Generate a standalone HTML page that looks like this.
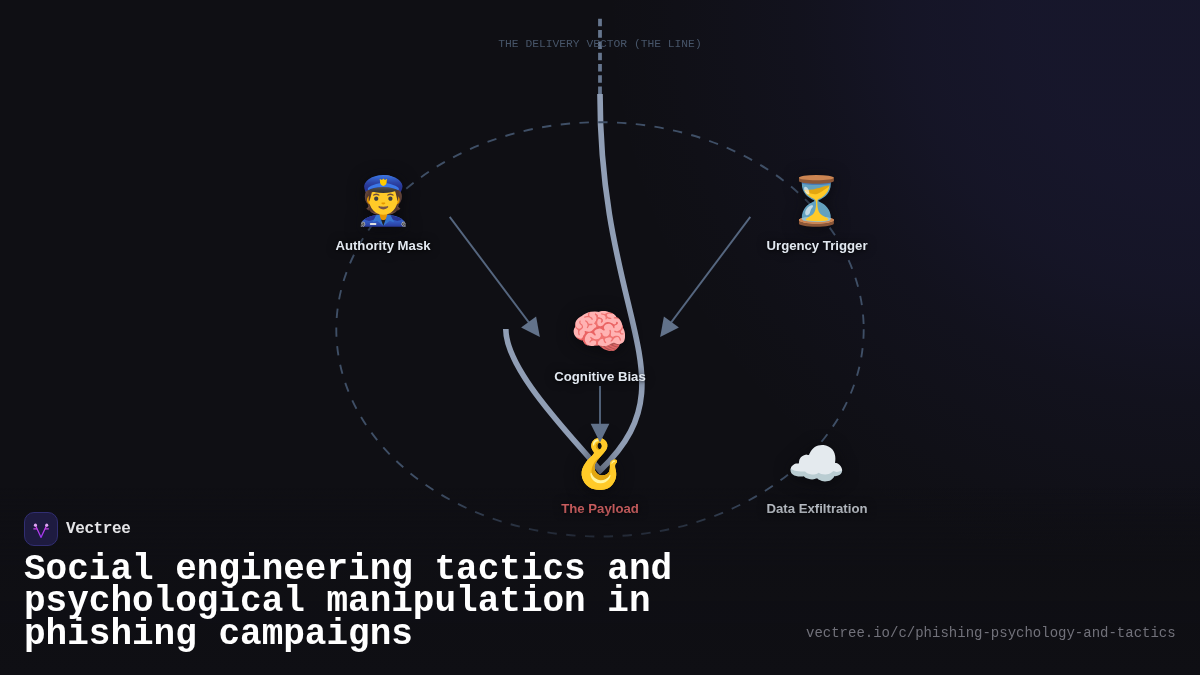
<!DOCTYPE html>
<html lang="en">
<head>
<meta charset="utf-8">
<title>Social engineering tactics and psychological manipulation in phishing campaigns</title>
<style>
*{margin:0;padding:0;box-sizing:border-box}
html,body{width:1200px;height:675px;overflow:hidden;background:#0f0f14}
body{position:relative;font-family:"Liberation Sans",Arial,sans-serif}
#bg{position:absolute;left:0;top:0;width:1200px;height:675px;
 background:
  radial-gradient(circle 600px at 100% 0%,rgba(88,84,236,0.1065) 0px,rgba(88,84,236,0.1065) 120px,rgba(88,84,236,0.1044) 165px,rgba(88,84,236,0.1012) 200px,rgba(88,84,236,0.0959) 240px,rgba(88,84,236,0.0905) 270px,rgba(88,84,236,0.0831) 300px,rgba(88,84,236,0.0628) 350px,rgba(88,84,236,0.0437) 400px,rgba(88,84,236,0.0298) 450px,rgba(88,84,236,0.0181) 500px,rgba(88,84,236,0.0075) 550px,rgba(88,84,236,0.0000) 600px),
  #0f0f14;}
#fade{position:absolute;left:0;top:488px;width:1200px;height:187px;
 background:linear-gradient(to top,#0f0f14 0%,rgba(15,15,20,0.9) 60%,rgba(15,15,20,0) 100%)}
#diagram,#arrows{will-change:transform;position:absolute;left:0;top:0;width:1200px;height:675px}
.node{position:absolute;transform:translate(-50%,-50%);white-space:nowrap;text-align:center}
.emoji{font-family:"Noto Color Emoji","Liberation Sans",sans-serif;font-size:47.1px;line-height:1;filter:drop-shadow(0 2px 8px rgba(5,5,8,.7))}
.fb{position:absolute;display:none;overflow:visible;filter:drop-shadow(0 2px 8px rgba(5,5,8,.7))}
.label{will-change:transform;font-weight:700;font-size:13.18px;color:#e2e8f0;line-height:1;text-shadow:0 1px 3px rgba(0,0,0,.55),0 0 10px rgba(10,10,14,.9)}
#brand{position:absolute;left:24px;top:512px;height:34px;display:flex;align-items:center}
#logo{width:34px;height:34px;border-radius:10px;background:#1e1b40;border:1px solid #312e72;display:block}
#brand span{will-change:transform;letter-spacing:-0.4px;font-family:"Liberation Mono",monospace;font-weight:700;font-size:16px;color:#e4e4e7;margin-left:8px}
h1{will-change:transform;position:absolute;left:24px;top:553.5px;font-family:"Liberation Mono",monospace;font-weight:700;font-size:36px;line-height:32.4px;color:#fff;width:760px;white-space:nowrap}
#url{will-change:transform;position:absolute;right:24px;top:625px;font-family:"Liberation Mono",monospace;font-size:14px;line-height:16px;color:#71717a}
</style>
</head>
<body>
<div id="bg"></div>
<svg id="diagram" width="1200" height="675" viewBox="0 0 1200 675">
  <line x1="600" y1="18.8" x2="600" y2="94.2" stroke="#66768e" stroke-width="3.77" stroke-dasharray="7.53 3.77"/>
  <path d="M600,94 C600,322.2 694.3,379.8 600,470.6 C574.4,438.9 505.8,371.4 505.8,329" fill="none" stroke="#909eb5" stroke-width="5.65" stroke-linejoin="miter" stroke-miterlimit="10"/>
  <ellipse cx="600" cy="329.35" rx="263.7" ry="207.15" fill="none" stroke="#3f4f66" stroke-width="1.88" stroke-dasharray="9.417 9.417"/>
  <text x="600" y="46.8" text-anchor="middle" font-family="'Liberation Mono',monospace" font-size="11.3" fill="#475569">THE DELIVERY VECTOR (THE LINE)</text>
</svg>

<div class="node emoji" id="e1" style="left:384px;top:201px">👮</div>
<div class="node emoji" id="e2" style="left:817px;top:201px">⏳</div>
<div class="node emoji" id="e3" style="left:600px;top:332px">🧠</div>
<div class="node emoji" id="e4" style="left:600px;top:464px">🪝</div>
<div class="node emoji" id="e5" style="left:817px;top:464px">☁️</div>

<svg class="fb" id="f1" style="left:360.8px;top:174.8px;width:45.6px;height:52.1px" viewBox="0 0 456 521">
  <path d="M40,230 C30,120 420,120 415,230 C425,300 420,340 400,365 L330,345 L120,345 L55,365 C30,340 30,300 40,230Z" fill="#8d5a3e"/>
  <rect x="178" y="380" width="98" height="80" fill="#e59d12"/>
  <path d="M0,521 L0,500 C8,440 90,425 150,400 L225,470 L305,400 C366,425 448,440 456,500 L456,521Z" fill="#2f58cc"/>
  <path d="M150,400 L178,388 L225,480 L200,521 L170,521Z" fill="#4a86ea"/>
  <path d="M305,400 L276,388 L225,480 L252,521 L284,521Z" fill="#4a86ea"/>
  <path d="M205,458 L247,458 L238,500 L226,521 L214,500Z" fill="#25282e"/>
  <path d="M0,521 L0,500 C3,470 30,452 60,440 C40,470 60,505 40,521Z" fill="#2747ad"/>
  <path d="M456,521 L456,500 C453,470 426,452 396,440 C416,470 396,505 416,521Z" fill="#2747ad"/>
  <circle cx="20" cy="497" r="19" fill="#9aa3ad"/><circle cx="432" cy="497" r="19" fill="#9aa3ad"/>
  <rect x="92" y="484" width="62" height="16" rx="5" fill="#f1f1f1"/>
  <ellipse cx="227" cy="268" rx="152" ry="140" fill="#fcc21b"/>
  <ellipse cx="83" cy="285" rx="22" ry="40" fill="#f0b010"/><ellipse cx="371" cy="285" rx="22" ry="40" fill="#f0b010"/>
  <ellipse cx="155" cy="240" rx="17" ry="19" fill="#3b3b3b"/><ellipse cx="297" cy="240" rx="17" ry="19" fill="#3b3b3b"/>
  <path d="M122,205 Q155,180 188,203" fill="none" stroke="#8d5a3e" stroke-width="11" stroke-linecap="round"/>
  <path d="M264,203 Q297,180 330,205" fill="none" stroke="#8d5a3e" stroke-width="11" stroke-linecap="round"/>
  <ellipse cx="226" cy="288" rx="16" ry="11" fill="#e8901a"/>
  <path d="M178,318 Q226,352 274,318 Q226,378 178,318Z" fill="#8a4b3a" stroke="#8a4b3a" stroke-width="6" stroke-linejoin="round"/>
  <path d="M75,175 C110,125 340,125 378,175 C330,215 125,215 75,175Z" fill="#3a3d42"/>
  <path d="M30,118 C60,-40 390,-40 420,118 C420,150 405,170 398,182 C330,120 120,120 55,182 C45,165 30,150 30,118Z" fill="#2f4fc4"/>
  <path d="M33,130 C110,60 340,60 418,130 C418,150 408,168 398,182 C330,120 120,120 55,182 C45,165 33,150 33,130Z" fill="#3d7be6"/>
  <path d="M190,40 L205,62 L226,38 L247,62 L262,40 L262,88 Q226,130 190,88Z" fill="#fcc21b"/>
</svg>
<svg class="fb" id="f2" style="left:798.5px;top:174.8px;width:35.9px;height:52.1px" viewBox="0 0 359 521">
  <path d="M28,60 L331,60 C331,170 250,215 205,250 L205,272 C250,305 331,350 331,462 L28,462 C28,350 110,305 154,272 L154,250 C110,215 28,170 28,60Z" fill="#6fb4de"/>
  <path d="M52,150 C110,185 250,120 322,95 C320,180 240,220 196,250 L192,300 C215,370 290,400 300,462 L60,462 C75,400 160,370 168,300 L166,250 C130,225 70,200 52,150Z" fill="#fcc21b"/>
  <path d="M70,150 C110,175 230,130 300,105 C290,120 200,190 120,185 C95,180 80,170 70,150Z" fill="#e9a400"/>
  <path d="M205,272 C250,305 331,350 331,462 L300,462 C290,400 215,370 196,300Z" fill="#5aa3d2" opacity=".85"/>
  <path d="M62,112 C70,92 92,92 104,118 C116,146 124,160 118,168 C104,176 72,150 62,112Z" fill="#d8eefb" opacity=".9"/>
  <path d="M70,400 C78,350 110,318 140,312 C150,314 150,326 140,338 C118,360 100,390 92,412 C84,420 70,416 70,400Z" fill="#d8eefb" opacity=".9"/>
  <rect x="0" y="0" width="359" height="78" rx="34" fill="#b06c3a"/>
  <rect x="0" y="0" width="359" height="52" rx="26" fill="#cd8a55"/>
  <rect x="0" y="443" width="359" height="78" rx="34" fill="#b06c3a"/>
  <rect x="0" y="443" width="359" height="46" rx="23" fill="#cd8a55"/>
</svg>
<svg class="fb" id="f3" style="left:573.3px;top:310.7px;width:51.9px;height:40.9px" viewBox="0 0 519 409">
  <path d="M300,330 C330,380 380,409 420,405 C455,400 470,370 462,330Z" fill="#e8656c"/>
  <path d="M318,352 L440,352 M330,368 L452,362 M345,384 L455,378 M370,398 L440,394" stroke="#c94a55" stroke-width="5" fill="none"/>
  <path d="M0,190 C-5,100 110,0 270,0 C400,-2 519,100 519,240 C522,300 480,335 430,335 C390,350 330,352 290,345 C240,360 130,355 95,295 C40,285 0,245 0,190Z" fill="#ffa9a9"/>
  <g fill="none" stroke="#e9666e" stroke-width="13" stroke-linecap="round" stroke-linejoin="round">
    <path d="M95,295 C80,250 100,215 140,205"/>
    <path d="M60,110 C100,120 110,160 85,185"/>
    <path d="M150,60 C175,90 165,130 130,140 M165,105 C195,100 215,115 222,140"/>
    <path d="M255,15 C225,50 240,90 280,100 C310,105 330,90 330,65"/>
    <path d="M200,215 C235,180 285,185 300,225 C310,260 285,285 255,280"/>
    <path d="M145,205 C175,245 165,290 200,300 C225,305 240,290 240,270"/>
    <path d="M350,25 C380,50 420,45 430,75 M395,55 C400,95 375,120 340,125"/>
    <path d="M300,225 C330,190 390,195 400,235 C405,260 390,280 365,282"/>
    <path d="M455,120 C430,150 440,185 480,195 M440,160 C410,165 395,185 400,210"/>
    <path d="M300,340 C290,305 310,285 340,290 M430,335 C440,300 420,275 395,285"/>
    <path d="M505,270 C480,260 455,275 455,300"/>
    <path d="M40,240 C60,235 75,245 80,262"/>
  </g>
</svg>
<svg class="fb" id="f4" style="left:581.9px;top:438.0px;width:35.2px;height:52.1px" viewBox="0 0 352 521">
  <path d="M180,0 C235,0 262,38 262,78 C262,120 238,140 205,178 C150,245 118,300 130,355 C142,405 200,420 245,395 C285,372 300,320 296,262 C294,235 322,222 340,232 C352,240 352,260 350,290 C345,400 290,521 165,521 C60,521 0,450 0,370 C0,280 60,215 105,160 C115,145 100,125 98,82 C96,38 125,0 180,0Z" fill="#fcc21b"/>
  <path d="M130,355 C142,405 200,420 245,395 C285,372 300,320 296,262 C320,330 300,430 225,455 C150,475 95,420 130,355Z" fill="#ffe36b"/>
  <path d="M95,330 C85,420 150,480 235,470 C300,460 335,400 345,330 C340,420 280,521 165,521 C70,521 40,420 95,330Z" fill="#eeaa08" opacity=".75"/>
  <ellipse cx="180" cy="80" rx="24" ry="36" fill="#14141a"/>
  <path d="M112,70 C112,40 135,18 160,14 C140,30 128,55 130,90 C120,90 112,84 112,70Z" fill="#ffe36b"/>
</svg>
<svg class="fb" id="f5" style="left:790.2px;top:444.9px;width:52.2px;height:37.0px" viewBox="0 0 522 370">
  <path d="M75,185 C75,120 130,85 180,100 C200,40 255,0 320,0 C395,0 450,60 448,135 C448,150 447,165 443,178 C490,185 522,225 522,265 C522,310 485,340 440,338 C420,360 390,370 355,370 C320,370 295,360 275,342 C255,355 230,360 205,358 C170,355 145,340 130,320 C60,330 0,300 0,250 C0,215 30,185 75,185Z" fill="#b3cbd3"/>
  <path d="M75,185 C75,120 130,85 180,100 C200,40 255,0 320,0 C395,0 450,60 448,135 C448,150 447,165 443,178 C490,185 522,225 522,262 C500,300 450,300 420,280 C400,320 310,330 270,285 C240,315 170,315 140,275 C90,300 20,290 0,245 C0,215 30,185 75,185Z" fill="#e6ebee"/>
</svg>

<svg id="arrows" width="1200" height="675" viewBox="0 0 1200 675">
  <g stroke="#55667f" stroke-width="1.85" fill="#62728a">
    <line x1="449.7" y1="216.9" x2="529" y2="322.6"/>
    <polygon points="539.85,337 521.1,327.6 536.1,316.4" stroke="none"/>
    <line x1="750.3" y1="216.9" x2="671" y2="322.6"/>
    <polygon points="660.15,337 678.9,327.6 663.9,316.4" stroke="none"/>
    <line x1="600" y1="386" x2="600" y2="425"/>
    <polygon points="600,442.6 590.6,423.8 609.4,423.8" stroke="none"/>
  </g>
</svg>

<div class="node label" style="left:383px;top:246px">Authority Mask</div>
<div class="node label" style="left:816.7px;top:246px">Urgency Trigger</div>
<div class="node label" style="left:600px;top:377px">Cognitive Bias</div>
<div class="node label" style="left:600px;top:509px;color:#f87171">The Payload</div>
<div class="node label" style="left:816.7px;top:509px">Data Exfiltration</div>

<div id="fade"></div>
<div id="brand">
  <svg id="logo" viewBox="0 0 34 34">
    <defs><linearGradient id="lg" x1="0" y1="12" x2="0" y2="26" gradientUnits="userSpaceOnUse"><stop offset="0" stop-color="#d946ef"/><stop offset="1" stop-color="#9333ea"/></linearGradient></defs>
    <path d="M11.2,13.2 L17,25.9 L22.9,13.2" fill="none" stroke="url(#lg)" stroke-width="1.3" stroke-linecap="round" stroke-linejoin="round"/>
    <path d="M8.9,16.9 L12.8,16.9 M21.2,16.9 L25.3,16.9" fill="none" stroke="#c642e6" stroke-width="1.5" stroke-linecap="butt"/>
    <circle cx="11.1" cy="12.9" r="1.65" fill="#dfa6f3"/><circle cx="23.1" cy="12.9" r="1.65" fill="#dfa6f3"/>
  </svg>
  <span>Vectree</span>
</div>
<h1>Social engineering tactics and<br>psychological manipulation in<br>phishing campaigns</h1>
<div id="url">vectree.io/c/phishing-psychology-and-tactics</div>
<script>
(function(){
  try{
    var c=document.createElement('canvas');c.width=48;c.height=48;
    var x=c.getContext('2d',{willReadFrequently:true});
    for(var i=1;i<=5;i++){
      var e=document.getElementById('e'+i),f=document.getElementById('f'+i);
      if(!e||!f)continue;
      x.clearRect(0,0,48,48);
      x.font='30px "Noto Color Emoji"';x.textBaseline='top';x.fillStyle='#000';
      x.fillText(e.textContent,2,6);
      var d=x.getImageData(0,0,48,48).data,n=0;
      for(var k=0;k<d.length;k+=4){
        if(d[k+3]>128){var mx=Math.max(d[k],d[k+1],d[k+2]),mn=Math.min(d[k],d[k+1],d[k+2]);if(mx-mn>40||mx>150)n++;}
      }
      if(n<40){e.style.visibility='hidden';f.style.display='block';}
    }
  }catch(err){}
})();
</script>
</body>
</html>
